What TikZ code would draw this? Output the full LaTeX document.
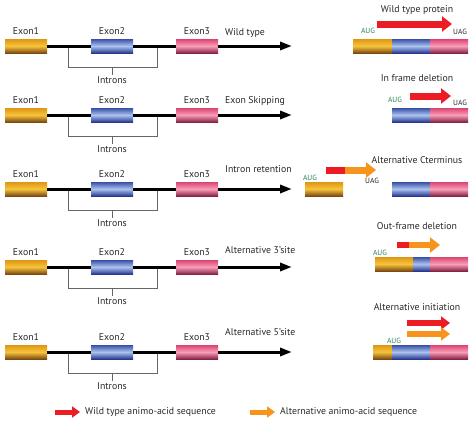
\documentclass[tikz,border=0pt]{standalone}
\usepackage{fontspec}
\setmainfont{PT Sans}
\usetikzlibrary{arrows.meta,positioning}

\definecolor{txt}{RGB}{40,40,40}
\definecolor{aug}{RGB}{40,130,85}
\definecolor{redarr}{RGB}{236,28,36}
\definecolor{orgarr}{RGB}{247,148,29}
\definecolor{oraT}{RGB}{222,150,20}
\definecolor{oraM}{RGB}{246,196,60}
\definecolor{oraB}{RGB}{125,72,18}
\definecolor{bluT}{RGB}{55,80,165}
\definecolor{bluM}{RGB}{172,195,238}
\definecolor{bluB}{RGB}{40,55,145}
\definecolor{pnkT}{RGB}{218,68,112}
\definecolor{pnkM}{RGB}{248,158,185}
\definecolor{pnkB}{RGB}{135,35,68}

\tikzset{
  exon/.style={minimum height=14pt,inner sep=0pt,outer sep=0pt},
  exA/.style={exon,top color=oraT,bottom color=oraB,middle color=oraM},
  exB/.style={exon,top color=bluT,bottom color=bluB,middle color=bluM},
  exC/.style={exon,top color=pnkT,bottom color=pnkB,middle color=pnkM},
  lbl/.style={font=\fontsize{9.8}{11}\selectfont,text=txt,inner sep=1pt},
  codon/.style={font=\fontsize{7.5}{8}\selectfont,inner sep=0pt},
  intr/.style={draw=black!60,line width=0.8pt},
  gene/.style={line width=3pt,-{Triangle[length=12pt,width=8pt]}},
  bigred/.style={redarr,line width=7pt,-{Triangle[length=10pt,width=15pt]}},
  bigorg/.style={orgarr,line width=7pt,-{Triangle[length=10pt,width=15pt]}},
  keyarr/.style={line width=5pt,-{Triangle[length=8pt,width=11pt]}}
}

\begin{document}
\begin{tikzpicture}[x=1pt,y=-1pt]
  \useasboundingbox (0,0) rectangle (474,423);

  % genes on the left
  \foreach \y/\ly/\txt [count=\i] in {46/33/Wild type,115/101/Exon Skipping,
      189/169/Intron retention,267/250/Alternative 3'site,352/332/Alternative 5'site}{
    \node[exA,minimum width=42pt] (e1\i) at (26,\y) {};
    \node[exB,minimum width=42pt] (e2\i) at (112,\y) {};
    \node[exC,minimum width=42pt] (e3\i) at (197,\y) {};
    \coordinate (tip\i) at (292,\y);
    \draw[line width=3pt] (e1\i.east) -- (e2\i.west) (e2\i.east) -- (e3\i.west);
    \draw[gene] (e3\i.east) -- (tip\i);
    \node[lbl,above=3pt of e1\i] {Exon1};
    \node[lbl,above=3pt of e2\i] {Exon2};
    \node[lbl,above=3pt of e3\i] {Exon3};
    \node[lbl,anchor=west] (row\i) at (224,\ly) {\txt};
    \node[lbl] (in\i) at (112,\y+34) {Introns};
    \draw[intr] (68,\y+1.5) -- (68,\y+21) -- (157,\y+21) -- (157,\y+1.5);
    \draw[intr] (112,\y+21) -- (in\i.north);
  }

  % wild type protein
  \node[lbl] (tA) at (417,10) {Wild type protein};
  \node[exA,minimum width=39pt,anchor=west] (pA1) at (353,46) {};
  \node[exB,minimum width=38pt,right=0pt of pA1] (pA2) {};
  \node[exC,minimum width=38pt,right=0pt of pA2] (pA3) {};
  \node[codon,text=aug] at (368,31) {AUG};
  \node[codon,text=txt] at (460,32) {UAG};
  \coordinate (a1) at (377,24); \coordinate (a2) at (452,24);
  \draw[bigred] (a1) -- (a2);

  % in frame deletion
  \node[lbl] (tB) at (417,78) {In frame deletion};
  \node[exB,minimum width=38pt,anchor=west] (pB2) at (392,115) {};
  \node[exC,minimum width=38pt,right=0pt of pB2] (pB3) {};
  \node[codon,text=aug] at (395,100) {AUG};
  \node[codon,text=txt] at (460,103) {UAG};
  \coordinate (b1) at (410,96); \coordinate (b2) at (451,96);
  \draw[bigred] (b1) -- (b2);

  % alternative C terminus
  \node[lbl] (tC) at (417,160) {Alternative Cterminus};
  \node[exA,minimum width=38pt,anchor=west] (pC1) at (305,189) {};
  \node[exB,minimum width=38pt,anchor=west] (pC2) at (392,189) {};
  \node[exC,minimum width=38pt,right=0pt of pC2] (pC3) {};
  \node[codon,text=aug] at (310,178) {AUG};
  \node[codon,text=txt] at (372,181) {UAG};
  \coordinate (c1) at (326,170); \coordinate (c2) at (345,170); \coordinate (c3) at (376,170);
  \draw[redarr,line width=7pt] (c1) -- (c2);
  \draw[bigorg] (c2) -- (c3);

  % out-frame deletion
  \node[lbl] (tD) at (417,226) {Out-frame deletion};
  \node[exA,minimum width=38pt,anchor=west] (pD1) at (375,264) {};
  \node[exB,minimum width=17pt,right=0pt of pD1] (pD2) {};
  \node[exC,minimum width=38pt,right=0pt of pD2] (pD3) {};
  \node[codon,text=aug] at (380,253) {AUG};
  \coordinate (d1) at (397,245); \coordinate (d2) at (409,245); \coordinate (d3) at (440,245);
  \draw[redarr,line width=6pt] (d1) -- (d2);
  \draw[bigorg,line width=6pt] (d2) -- (d3);

  % alternative initiation
  \node[lbl] (tE) at (417,307) {Alternative initiation};
  \node[exA,minimum width=19pt,anchor=west] (pE1) at (373,352) {};
  \node[exB,minimum width=38pt,right=0pt of pE1] (pE2) {};
  \node[exC,minimum width=38pt,right=0pt of pE2] (pE3) {};
  \node[codon,text=aug] at (394,341) {AUG};
  \coordinate (f1) at (407,323); \coordinate (f2) at (450,323);
  \coordinate (g1) at (407,334); \coordinate (g2) at (450,334);
  \draw[bigred,line width=6pt,-{Triangle[length=9pt,width=13pt]}] (f1) -- (f2);
  \draw[bigorg,line width=6pt,-{Triangle[length=9pt,width=13pt]}] (g1) -- (g2);

  % key
  \coordinate (k1) at (55,412); \coordinate (k2) at (80,412);
  \coordinate (k3) at (250,412); \coordinate (k4) at (275,412);
  \draw[keyarr,redarr] (k1) -- (k2);
  \draw[keyarr,orgarr] (k3) -- (k4);
  \node[lbl,anchor=west] (kr) at (84,412) {Wild type animo-acid sequence};
  \node[lbl,anchor=west] (ko) at (279,412) {Alternative animo-acid sequence};
\end{tikzpicture}
\end{document}
